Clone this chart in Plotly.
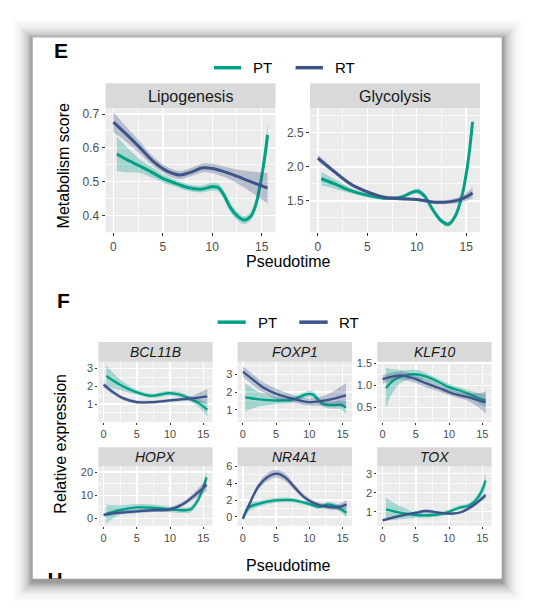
import plotly.graph_objects as go

# ---------------- data ----------------
GROUPS = ["PT", "RT"]
X_TICKS = [0, 5, 10, 15]

# Panel E: metabolism scores
LIPO_PT_T = [0.35, 1.5, 2.7, 4, 5, 6.3, 7.5, 8.8, 10, 10.6, 11.2, 11.8, 12.5, 13.2, 13.9, 14.4, 14.8, 15.2, 15.6]
LIPO_PT_V = [0.582, 0.563, 0.546, 0.526, 0.510, 0.495, 0.483, 0.478, 0.485, 0.483, 0.460, 0.425, 0.400, 0.387, 0.398, 0.432, 0.483, 0.551, 0.638]
LIPO_PT_SE = [0.05, 0.035, 0.02, 0.015, 0.012, 0.01, 0.01, 0.01, 0.012, 0.012, 0.013, 0.014, 0.013, 0.012, 0.012, 0.014, 0.018, 0.025, 0.04]
LIPO_RT_T = [0, 1.35, 2.7, 4, 5.4, 6.7, 7.7, 9.1, 10, 11.5, 13.2, 15.6]
LIPO_RT_V = [0.676, 0.639, 0.600, 0.561, 0.532, 0.520, 0.527, 0.541, 0.539, 0.527, 0.508, 0.481]
LIPO_RT_SE = [0.03, 0.022, 0.018, 0.014, 0.012, 0.012, 0.012, 0.013, 0.014, 0.016, 0.025, 0.045]

GLYC_PT_T = [0.34, 1.63, 3.3, 5, 6.7, 8.4, 9.4, 10.1, 10.8, 11.6, 12.5, 13.2, 13.9, 14.6, 15.1, 15.4, 15.65]
GLYC_PT_V = [1.825, 1.753, 1.65, 1.582, 1.539, 1.553, 1.617, 1.64, 1.568, 1.374, 1.204, 1.156, 1.277, 1.59, 1.98, 2.32, 2.66]
GLYC_PT_SE = [0.1, 0.07, 0.04, 0.03, 0.025, 0.025, 0.03, 0.04, 0.04, 0.035, 0.035, 0.035, 0.035, 0.04, 0.05, 0.06, 0.08]
GLYC_RT_T = [0, 1.63, 3.3, 5, 6.7, 8.4, 10, 11.8, 13.2, 14.6, 15.65]
GLYC_RT_V = [2.127, 1.932, 1.748, 1.631, 1.553, 1.53, 1.52, 1.48, 1.485, 1.53, 1.617]
GLYC_RT_SE = [0.05, 0.035, 0.03, 0.025, 0.025, 0.022, 0.022, 0.025, 0.03, 0.05, 0.08]

# Panel F: relative expression
BCL_PT_T = [0.4, 2.4, 4.9, 7.2, 9.9, 11.5, 12.9, 14.3, 15.6]
BCL_PT_V = [2.57, 2.1, 1.67, 1.46, 1.61, 1.52, 1.32, 1.05, 0.68]
BCL_PT_SE = [0.6, 0.3, 0.14, 0.12, 0.14, 0.14, 0.15, 0.22, 0.38]
BCL_RT_T = [0, 1.4, 2.9, 5, 7.4, 10, 12.9, 15.6]
BCL_RT_V = [2.09, 1.67, 1.33, 1.11, 1.11, 1.2, 1.3, 1.43]
BCL_RT_SE = [0.15, 0.12, 0.11, 0.1, 0.09, 0.09, 0.13, 0.42]

FOX_PT_T = [0.35, 2.5, 5, 7.5, 9.7, 10.5, 12, 13.5, 14.7, 15.5]
FOX_PT_V = [1.69, 1.58, 1.52, 1.57, 1.88, 1.86, 1.34, 1.25, 1.28, 1.12]
FOX_PT_SE = [0.8, 0.4, 0.2, 0.15, 0.17, 0.18, 0.18, 0.2, 0.25, 0.35]
FOX_RT_T = [0, 1.5, 3, 5, 7.5, 10, 12.5, 15.5]
FOX_RT_V = [3.15, 2.7, 2.27, 1.9, 1.62, 1.43, 1.53, 1.81]
FOX_RT_SE = [0.3, 0.3, 0.3, 0.3, 0.22, 0.2, 0.3, 0.7]

KLF_PT_T = [0.5, 1.6, 3, 5, 6.5, 8.5, 10, 11.5, 13, 15, 15.5]
KLF_PT_V = [0.94, 1.11, 1.21, 1.25, 1.2, 1.07, 0.96, 0.89, 0.81, 0.68, 0.67]
KLF_PT_SE = [0.45, 0.25, 0.13, 0.1, 0.08, 0.07, 0.07, 0.07, 0.08, 0.13, 0.16]
KLF_RT_T = [0, 1.6, 3, 5, 6.5, 8.5, 10, 11.5, 13, 15, 15.5]
KLF_RT_V = [1.14, 1.2, 1.22, 1.14, 1.05, 0.94, 0.85, 0.78, 0.73, 0.64, 0.62]
KLF_RT_SE = [0.1, 0.09, 0.09, 0.09, 0.09, 0.08, 0.07, 0.07, 0.09, 0.2, 0.25]

HOPX_PT_T = [0.4, 2.4, 5, 7.4, 10, 11.9, 13.1, 14.1, 14.8, 15.5]
HOPX_PT_V = [2.1, 3.7, 4.8, 4.7, 4.0, 3.6, 4.0, 7.5, 11.8, 17.7]
HOPX_PT_SE = [4, 2, 1.5, 1.4, 1.3, 1.2, 1.3, 1.5, 2, 3]
HOPX_RT_T = [0, 2.4, 5, 7.4, 10, 11.9, 13.4, 15.5]
HOPX_RT_V = [1.6, 2.6, 3.1, 3.6, 4.0, 6.2, 9.3, 14.5]
HOPX_RT_SE = [0.8, 0.8, 0.8, 0.8, 0.9, 1, 1.3, 2.5]

NR4_PT_T = [0, 0.85, 2.35, 4.85, 7.4, 9.9, 11.4, 12.9, 14.2, 15.6]
NR4_PT_V = [-0.2, 1.1, 1.56, 1.96, 2.0, 1.56, 1.2, 1.49, 1.17, 0.5]
NR4_PT_SE = [0.3, 0.5, 0.35, 0.28, 0.25, 0.25, 0.25, 0.3, 0.35, 0.6]
NR4_RT_T = [0, 0.85, 2.35, 3.85, 5.1, 6.35, 7.85, 9.35, 10.9, 12.9, 14.4, 15.6]
NR4_RT_V = [-0.2, 1.3, 3.65, 4.82, 5.14, 4.7, 3.45, 2.27, 1.57, 1.18, 1.18, 1.49]
NR4_RT_SE = [0.2, 0.3, 0.4, 0.45, 0.45, 0.45, 0.35, 0.3, 0.28, 0.3, 0.35, 0.55]

TOX_PT_T = [0.5, 2.6, 5, 7.6, 9.6, 11.5, 13, 14, 14.9, 15.5]
TOX_PT_V = [1.12, 0.95, 0.83, 0.83, 0.95, 1.21, 1.33, 1.59, 2.08, 2.64]
TOX_PT_SE = [0.6, 0.35, 0.15, 0.12, 0.12, 0.12, 0.13, 0.18, 0.25, 0.4]
TOX_RT_T = [0, 2.6, 5, 6.5, 8.5, 10.5, 12, 14, 15.5]
TOX_RT_V = [0.55, 0.78, 0.95, 1.04, 0.95, 0.9, 1.0, 1.42, 1.87]
TOX_RT_SE = [0.07, 0.07, 0.08, 0.08, 0.07, 0.07, 0.08, 0.1, 0.15]

# ---------------- style / layout ----------------
W, H = 534, 611
FONT = "Liberation Sans, Arial, Helvetica, sans-serif"
COL = {"PT": "#00A087", "RT": "#3C5488"}
FILL = {"PT": "rgba(0,160,135,0.30)", "RT": "rgba(60,84,136,0.30)"}
XR = [-0.8, 16.4]


def fx(px):
    return px / W


def fy(py):
    return 1 - py / H


def minors(major, lo, hi):
    step = major[1] - major[0]
    cands = [major[0] - step / 2] + [m + step / 2 for m in major]
    return [c for c in cands if lo <= c <= hi]


E_Y = (103.3, 228.4, 78.0)
R1 = (359.3, 420.0, 339.3)
R2 = (465.0, 525.0, 445.5)
C1, C2, C3 = (98.3, 212.6), (237.6, 351.9), (377.3, 491.6)

panels = [
    dict(name="Lipogenesis", it=False, xs=(105.5, 275.5), ys=E_Y, yr=[0.351, 0.717],
         yt=[0.4, 0.5, 0.6, 0.7], ytt=["0.4", "0.5", "0.6", "0.7"], fs=12, sfs=16, lw=3.0,
         data={"PT": (LIPO_PT_T, LIPO_PT_V, LIPO_PT_SE), "RT": (LIPO_RT_T, LIPO_RT_V, LIPO_RT_SE)}),
    dict(name="Glycolysis", it=False, xs=(310.0, 480.0), ys=E_Y, yr=[1.04, 2.86],
         yt=[1.5, 2.0, 2.5], ytt=["1.5", "2.0", "2.5"], fs=12, sfs=16, lw=3.0,
         data={"PT": (GLYC_PT_T, GLYC_PT_V, GLYC_PT_SE), "RT": (GLYC_RT_T, GLYC_RT_V, GLYC_RT_SE)}),
    dict(name="BCL11B", it=True, xs=C1, ys=R1, yr=[0.0, 3.37],
         yt=[1, 2, 3], ytt=["1", "2", "3"], fs=11, sfs=14, lw=2.3,
         data={"PT": (BCL_PT_T, BCL_PT_V, BCL_PT_SE), "RT": (BCL_RT_T, BCL_RT_V, BCL_RT_SE)}),
    dict(name="FOXP1", it=True, xs=C2, ys=R1, yr=[0.31, 3.71],
         yt=[1, 2, 3], ytt=["1", "2", "3"], fs=11, sfs=14, lw=2.3,
         data={"PT": (FOX_PT_T, FOX_PT_V, FOX_PT_SE), "RT": (FOX_RT_T, FOX_RT_V, FOX_RT_SE)}),
    dict(name="KLF10", it=True, xs=C3, ys=R1, yr=[0.18, 1.53],
         yt=[0.5, 1.0, 1.5], ytt=["0.5", "1.0", "1.5"], fs=11, sfs=14, lw=2.3,
         data={"PT": (KLF_PT_T, KLF_PT_V, KLF_PT_SE), "RT": (KLF_RT_T, KLF_RT_V, KLF_RT_SE)}),
    dict(name="HOPX", it=True, xs=C1, ys=R2, yr=[-3.1, 22.4],
         yt=[0, 10, 20], ytt=["0", "10", "20"], fs=11, sfs=14, lw=2.3,
         data={"PT": (HOPX_PT_T, HOPX_PT_V, HOPX_PT_SE), "RT": (HOPX_RT_T, HOPX_RT_V, HOPX_RT_SE)}),
    dict(name="NR4A1", it=True, xs=C2, ys=R2, yr=[-1.06, 6.0],
         yt=[0, 2, 4, 6], ytt=["0", "2", "4", "6"], fs=11, sfs=14, lw=2.3,
         data={"PT": (NR4_PT_T, NR4_PT_V, NR4_PT_SE), "RT": (NR4_RT_T, NR4_RT_V, NR4_RT_SE)}),
    dict(name="TOX", it=True, xs=C3, ys=R2, yr=[0.26, 3.38],
         yt=[1, 2, 3], ytt=["1", "2", "3"], fs=11, sfs=14, lw=2.3,
         data={"PT": (TOX_PT_T, TOX_PT_V, TOX_PT_SE), "RT": (TOX_RT_T, TOX_RT_V, TOX_RT_SE)}),
]

fig = go.Figure()
shapes = []
annotations = []
layout = {}

# card shadow (soft, layered) + card
CARD = (32.7, 31.7, 501.7, 578.5)
for k in range(20, 0, -1):
    a = 0.05 if k <= 5 else (0.02 if k <= 12 else 0.008)
    shapes.append(dict(type="rect", xref="paper", yref="paper", layer="below",
                       x0=fx(CARD[0] - k), x1=fx(CARD[2] + k),
                       y0=fy(CARD[3] + k + 3), y1=fy(CARD[1] - k + 2),
                       line=dict(width=0), fillcolor=f"rgba(0,0,0,{a})"))
shapes.append(dict(type="rect", xref="paper", yref="paper", layer="below",
                   x0=fx(CARD[0]), x1=fx(CARD[2]), y0=fy(CARD[3]), y1=fy(CARD[1]),
                   line=dict(width=0), fillcolor="white"))

for i, p in enumerate(panels, start=1):
    xa = "x" if i == 1 else f"x{i}"
    ya = "y" if i == 1 else f"y{i}"
    xk = "xaxis" if i == 1 else f"xaxis{i}"
    yk = "yaxis" if i == 1 else f"yaxis{i}"
    x0, x1 = p["xs"]
    ytop, ybot, stop = p["ys"]
    shapes.append(dict(type="rect", xref="paper", yref="paper", layer="below",
                       x0=fx(x0), x1=fx(x1), y0=fy(ybot), y1=fy(ytop),
                       line=dict(width=0), fillcolor="#EBEBEB"))
    shapes.append(dict(type="rect", xref="paper", yref="paper", layer="below",
                       x0=fx(x0), x1=fx(x1), y0=fy(ytop), y1=fy(stop),
                       line=dict(width=0), fillcolor="#D9D9D9"))
    label = f"<i>{p['name']}</i>" if p["it"] else p["name"]
    annotations.append(dict(text=label, xref="paper", yref="paper", showarrow=False,
                            x=fx((x0 + x1) / 2), y=fy((ytop + stop) / 2 + 0.5),
                            xanchor="center", yanchor="middle",
                            font=dict(family=FONT, size=p["sfs"], color="#1A1A1A")))
    common = dict(showline=False, zeroline=False, ticks="outside",
                  ticklen=3 if p["fs"] == 12 else 2, tickwidth=1, tickcolor="#333333",
                  tickfont=dict(family=FONT, size=p["fs"], color="#4D4D4D"),
                  showgrid=True, gridcolor="white", gridwidth=1.4, fixedrange=True)
    layout[xk] = dict(domain=[fx(x0), fx(x1)], range=XR, anchor=ya,
                      tickmode="array", tickvals=X_TICKS, ticktext=[str(v) for v in X_TICKS],
                      minor=dict(tickmode="array", tickvals=minors(X_TICKS, *XR),
                                 showgrid=True, gridcolor="white", gridwidth=0.7, ticks=""),
                      **common)
    layout[yk] = dict(domain=[fy(ybot), fy(ytop)], range=p["yr"], anchor=xa,
                      tickmode="array", tickvals=p["yt"], ticktext=p["ytt"],
                      minor=dict(tickmode="array", tickvals=minors(p["yt"], *p["yr"]),
                                 showgrid=True, gridcolor="white", gridwidth=0.7, ticks=""),
                      **common)
    for g in GROUPS:
        t, v, se = p["data"][g]
        lo = [a - b for a, b in zip(v, se)]
        hi = [a + b for a, b in zip(v, se)]
        fig.add_trace(go.Scatter(x=t, y=lo, xaxis=xa, yaxis=ya, mode="lines",
                                 line=dict(width=0, shape="spline", color=COL[g]),
                                 showlegend=False, hoverinfo="skip"))
        fig.add_trace(go.Scatter(x=t, y=hi, xaxis=xa, yaxis=ya, mode="lines",
                                 line=dict(width=0, shape="spline", color=COL[g]),
                                 fill="tonexty", fillcolor=FILL[g],
                                 showlegend=False, hoverinfo="skip"))
        fig.add_trace(go.Scatter(x=t, y=v, xaxis=xa, yaxis=ya, mode="lines",
                                 line=dict(width=p["lw"], shape="spline", color=COL[g]),
                                 name=g, showlegend=False, hoverinfo="skip"))

# cut-off "H" label at the bottom of the card (clipped on a hidden axis)
layout["xaxis9"] = dict(domain=[fx(40), fx(75)], range=[0, 1], visible=False, anchor="y9", fixedrange=True)
layout["yaxis9"] = dict(domain=[fy(578.5), fy(566)], range=[0, 1], visible=False, anchor="x9", fixedrange=True)
fig.add_trace(go.Scatter(x=[(55 - 40) / 35], y=[(578.5 - 581.5) / 12.5], xaxis="x9", yaxis="y9",
                         mode="text", text=["<b>H</b>"], cliponaxis=True,
                         textfont=dict(family=FONT, size=21, color="black"),
                         showlegend=False, hoverinfo="skip"))

# manual legends
for ly, keys in [(62.3, [(213.9, 241.1, 252.0, "PT"), (295.6, 322.9, 334.0, "RT")]),
                 (319.3, [(217.7, 245.7, 256.7, "PT"), (299.3, 327.7, 338.3, "RT")])]:
    for k0, k1, tx, g in keys:
        shapes.append(dict(type="line", xref="paper", yref="paper", layer="above",
                           x0=fx(k0), x1=fx(k1), y0=fy(ly), y1=fy(ly),
                           line=dict(color=COL[g], width=3.5)))
        annotations.append(dict(text=g, xref="paper", yref="paper", showarrow=False,
                                x=fx(tx - 1), y=fy(ly), xanchor="left", yanchor="middle",
                                font=dict(family=FONT, size=15, color="black")))

for txt, x, y in [("<b>E</b>", 61.3, 45.3), ("<b>F</b>", 63.0, 297.5)]:
    annotations.append(dict(text=txt, xref="paper", yref="paper", showarrow=False,
                            x=fx(x), y=fy(y), xanchor="center", yanchor="middle",
                            font=dict(family=FONT, size=21, color="black")))
for txt, x, y, ang in [("Metabolism score", 63.0, 162.0, -90), ("Relative expression", 61.0, 442.0, -90),
                       ("Pseudotime", 288.0, 258.3, 0), ("Pseudotime", 288.3, 565.0, 0)]:
    annotations.append(dict(text=txt, xref="paper", yref="paper", showarrow=False,
                            x=fx(x), y=fy(y), xanchor="center", yanchor="middle", textangle=ang,
                            font=dict(family=FONT, size=16, color="black")))

fig.update_layout(width=W, height=H, autosize=False,
                  margin=dict(l=0, r=0, t=0, b=0, pad=0),
                  paper_bgcolor="white", plot_bgcolor="rgba(0,0,0,0)",
                  showlegend=False, shapes=shapes, annotations=annotations,
                  font=dict(family=FONT), **layout)

fig.write_html("out.html", config={"displayModeBar": False, "staticPlot": True},
               post_script="document.body.style.margin='0px';document.body.style.padding='0px';"
                           "document.body.style.overflow='hidden';")
